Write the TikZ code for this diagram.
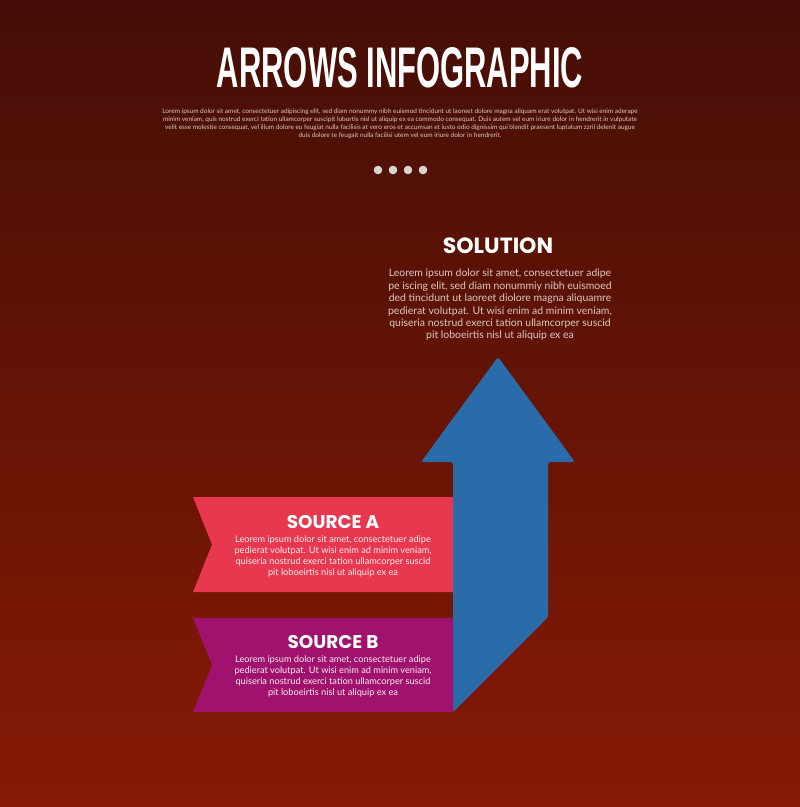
\documentclass[tikz,border=0pt]{standalone}
\usepackage{graphicx}
\usepackage{fontspec}
\setmainfont{Lato}
\newfontfamily\headfont{Poppins}
\newfontfamily\titlefont{Liberation Sans}
\usetikzlibrary{positioning,calc}
\definecolor{bgtop}{HTML}{450E06}
\definecolor{bgbot}{HTML}{861A05}
\definecolor{bgglow}{HTML}{8E1D04}
\definecolor{arrowblue}{HTML}{2A6CA9}
\definecolor{srcA}{HTML}{E8384F}
\definecolor{srcB}{HTML}{A1126F}
\definecolor{dotgray}{HTML}{D6D6D6}
\definecolor{softtext}{HTML}{DCC9C4}
\definecolor{lighttext}{HTML}{FAEDEE}
\tikzset{
  heading/.style={anchor=base,inner sep=0pt,text=white,font=\headfont\bfseries\fontsize{18.4}{22}\selectfont},
  blurb/.style={align=center,inner sep=0pt,text=lighttext,font=\fontsize{9.2}{11}\selectfont}
}

\begin{document}
\begin{tikzpicture}[x=1pt,y=-1pt]
\useasboundingbox (0,0) rectangle (800,807);
\shade[top color=bgtop,bottom color=bgbot] (0,0) rectangle (800,807);
% title block
\node[anchor=base,inner sep=0pt,text=white] (title) at (400,87)
  {\resizebox{366pt}{40pt}{\titlefont\bfseries ARROWS INFOGRAPHIC}};
\node[align=center,inner sep=0pt,text=softtext,font=\fontsize{6.45}{8}\selectfont] (intro) at (400,124)
  {Lorem ipsum dolor sit amet, consectetuer adipiscing elit, sed diam nonummy nibh euismod tincidunt ut laoreet dolore magna aliquam erat volutpat. Ut wisi enim aderape\\
   minim veniam, quis nostrud exerci tation ullamcorper suscipit lobortis nisl ut aliquip ex ea commodo consequat. Duis autem vel eum iriure dolor in hendrerit in vulputate\\
   velit esse molestie consequat, vel illum dolore eu feugiat nulla facilisis at vero eros et accumsan et iusto odio dignissim qui blandit praesent luptatum zzril delenit augue\\
   duis dolore te feugait nulla facilisi utem vel eum iriure dolor in hendrerit.};
\foreach \x in {378,393,408,423}
  \fill[dotgray] (\x,170) circle[radius=4.3];
% the arrow
\coordinate (tip) at (498,357);
\coordinate (hl) at (421,462);
\coordinate (hr) at (575,462);
\coordinate (sl) at (453,462);
\coordinate (sr) at (548,462);
\coordinate (kr) at (548,617);
\coordinate (bl) at (453,712);
\fill[arrowblue,rounded corners=2.5pt] (bl) -- (sl) -- (hl) -- (tip) -- (hr) -- (sr) -- (kr) -- cycle;
% ribbons
\fill[srcA] (453,497) -- (193,497) -- (212,544.5) -- (193,592) -- (453,592) -- cycle;
\fill[srcB] (453,618) -- (193,618) -- (212,665) -- (193,712) -- (bl) -- cycle;
% texts
\node[heading,font=\headfont\bfseries\fontsize{22}{26}\selectfont] (sol) at (498,253) {SOLUTION};
\node[blurb,text=softtext,font=\fontsize{10.45}{12.4}\selectfont] (soltext) at (500,305)
  {Leorem ipsum dolor sit amet, consectetuer adipe\\
   pe iscing elit, sed diam nonummiy nibh euismoed\\
   ded tincidunt ut laoreet diolore magna aliquamre\\
   pedierat volutpat. Ut wisi enim ad minim veniam,\\
   quiseria nostrud exerci tation ullamcorper suscid\\
   pit loboeirtis nisl ut aliquip ex ea};
\node[heading] (srca) at (333,528) {SOURCE A};
\node[blurb] (srcatext) at (333,556.5)
  {Leorem ipsum dolor sit amet, consectetuer adipe\\
   pedierat volutpat. Ut wisi enim ad minim veniam,\\
   quiseria nostrud exerci tation ullamcorper suscid\\
   pit loboeirtis nisl ut aliquip ex ea};
\node[heading] (srcb) at (333,648) {SOURCE B};
\node[blurb] (srcbtext) at (333,676.5)
  {Leorem ipsum dolor sit amet, consectetuer adipe\\
   pedierat volutpat. Ut wisi enim ad minim veniam,\\
   quiseria nostrud exerci tation ullamcorper suscid\\
   pit loboeirtis nisl ut aliquip ex ea};
\end{tikzpicture}
\end{document}
